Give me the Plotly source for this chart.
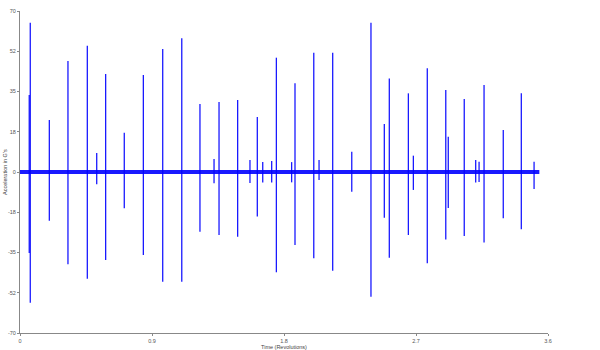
import plotly.graph_objects as go

# Impulse positions (revolutions) and their positive / negative peak accelerations (G)
impulse_t = [0.063, 0.070, 0.200, 0.327, 0.459, 0.523, 0.584, 0.711, 0.841, 0.973,
             1.103, 1.227, 1.323, 1.357, 1.484, 1.568, 1.618, 1.655, 1.716, 1.748,
             1.852, 1.875, 2.003, 2.039, 2.132, 2.262, 2.393, 2.484, 2.518, 2.648,
             2.682, 2.777, 2.903, 2.920, 3.029, 3.107, 3.130, 3.164, 3.295, 3.418,
             3.505]
impulse_pos = [33.5, 64.9, 22.6, 48.3, 54.9, 8.3, 42.6, 17.1, 42.2, 53.5,
               58.1, 29.6, 5.7, 30.4, 31.3, 5.2, 23.9, 4.3, 4.8, 49.7,
               4.3, 38.6, 51.9, 5.2, 51.9, 8.8, 64.9, 20.9, 40.7, 34.2,
               7.1, 45.1, 35.7, 15.3, 31.7, 5.2, 4.5, 37.8, 18.3, 34.2,
               4.5]
impulse_neg = [-35.2, -56.8, -21.2, -40.1, -46.4, -5.3, -38.3, -15.8, -36.1, -47.7,
               -47.7, -26.0, -4.9, -27.4, -28.1, -4.8, -19.4, -4.6, -4.6, -43.6,
               -4.5, -31.7, -37.5, -3.5, -42.9, -8.6, -54.2, -19.9, -37.3, -27.4,
               -7.8, -39.7, -29.3, -15.7, -27.8, -4.6, -4.4, -30.7, -20.1, -24.9,
               -7.4]

# Background vibration band (G) and record span (revolutions)
noise_band = [-0.9, 0.9]
record_span = [0.0, 3.541]

y_tick_vals = [-70, -52.5, -35, -17.5, 0, 17.5, 35, 52.5, 70]
y_tick_text = ["-70", "-52", "-35", "-18", "0", "18", "35", "52", "70"]
x_tick_vals = [0, 0.9, 1.8, 2.7, 3.6]
x_tick_text = ["0", "0.9", "1.8", "2.7", "3.6"]

fig = go.Figure()

# background vibration band
fig.add_trace(go.Scatter(
    x=[record_span[0], record_span[1], record_span[1], record_span[0]],
    y=[noise_band[1], noise_band[1], noise_band[0], noise_band[0]],
    fill="toself", fillcolor="rgba(0,0,255,0.9)", mode="lines",
    line=dict(color="rgba(0,0,0,0)", width=0), hoverinfo="skip", showlegend=False))

# impulses
xs, ys = [], []
for t, p, n in zip(impulse_t, impulse_pos, impulse_neg):
    xs += [t, t, None]
    ys += [n, p, None]

fig.add_trace(go.Scatter(
    x=xs, y=ys, mode="lines",
    line=dict(color="rgba(0,0,255,0.9)", width=1.3),
    showlegend=False))

axis_font = dict(family="Liberation Sans, Arial, sans-serif", size=5.5, color="#555555")
title_font = dict(family="Liberation Sans, Arial, sans-serif", size=5.5, color="#444444")

fig.update_layout(
    width=600, height=350,
    margin=dict(l=20, r=52, t=11, b=17),
    paper_bgcolor="white", plot_bgcolor="white",
    showlegend=False,
    xaxis=dict(range=[0, 3.6], tickvals=x_tick_vals, ticktext=x_tick_text,
               showgrid=False, zeroline=False, showline=True, linecolor="#888888",
               linewidth=1, ticks="outside", ticklen=2, tickcolor="#888888",
               tickfont=axis_font, automargin=False),
    yaxis=dict(range=[-70, 70], tickvals=y_tick_vals, ticktext=y_tick_text,
               showgrid=False, zeroline=False, showline=True, linecolor="#888888",
               linewidth=1, ticks="outside", ticklen=2, tickcolor="#888888",
               tickfont=axis_font, automargin=False),
    annotations=[
        dict(text="Time (Revolutions)", xref="paper", yref="paper", x=0.5, y=0,
             yanchor="middle", yshift=-13.5, showarrow=False, font=title_font),
        dict(text="Acceleration in G's", xref="paper", yref="paper", x=0, y=0.5,
             xanchor="center", xshift=-15, textangle=-90, showarrow=False,
             font=title_font),
    ],
)

fig.write_html("out.html")
